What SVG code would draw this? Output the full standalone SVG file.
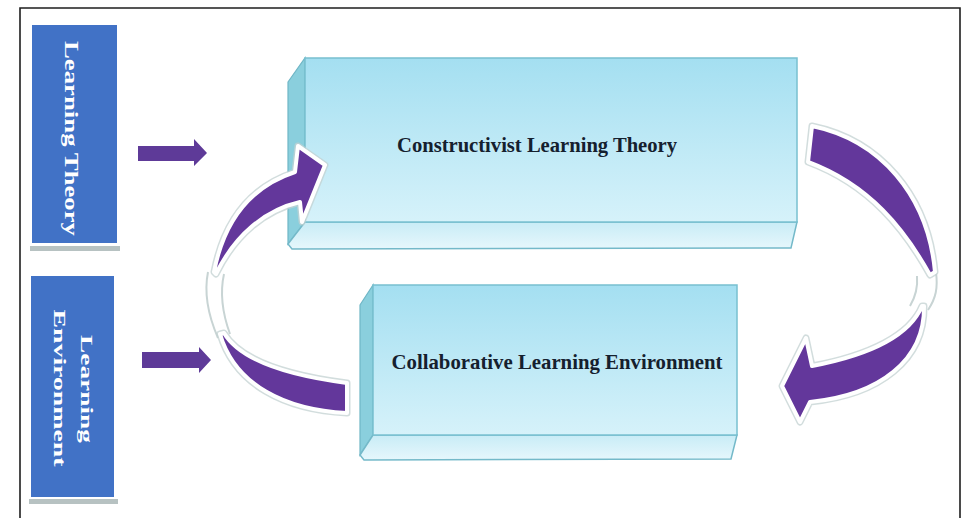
<svg xmlns="http://www.w3.org/2000/svg" width="978" height="518" viewBox="0 0 978 518">
  <defs>
    <linearGradient id="face" x1="0" y1="0" x2="0" y2="1">
      <stop offset="0" stop-color="#a4dff1"/>
      <stop offset="1" stop-color="#d6f2fa"/>
    </linearGradient>
    <linearGradient id="bottomFace" x1="0" y1="0" x2="0" y2="1">
      <stop offset="0" stop-color="#c8ecf6"/>
      <stop offset="1" stop-color="#e6f7fc"/>
    </linearGradient>
    <style>
      .frame { fill: none; stroke: #1e1e1e; stroke-width: 1.6; }
      .blue { fill: #4172c6; }
      .bshadow { fill: #b7c2c2; }
      .vtext { font-family: "Liberation Serif", "Times New Roman", serif; font-weight: bold; fill: #ffffff; }
      .front { fill: url(#face); stroke: #78c0d0; stroke-width: 1.5; }
      .side { fill: #8acfdd; stroke: #6fb6c6; stroke-width: 1.2; }
      .bottom { fill: url(#bottomFace); stroke: #74b9c9; stroke-width: 1.5; }
      .label { font-family: "Liberation Serif", "Times New Roman", serif; font-weight: bold; font-size: 22px; fill: #15202e; }
      .purple { fill: #63379b; stroke: #ffffff; stroke-width: 4; stroke-linejoin: round; }
      .halo { fill: none; stroke: #c3d1d1; stroke-width: 7; stroke-linejoin: round; opacity: 0.75; }
      .ring { fill: none; stroke: #c8d4d4; stroke-width: 2; }
      .short { fill: #5e3a98; }
    </style>
  </defs>

  <rect width="978" height="518" fill="#ffffff"/>
  <path class="frame" d="M20,518 V8 H960 V518"/>

  <g id="learning-theory">
    <rect class="bshadow" x="30" y="246" width="90" height="5"/>
    <rect class="blue" x="32" y="25" width="85" height="218"/>
    <text class="vtext" font-size="18" transform="translate(65,138.5) rotate(90)" text-anchor="middle" textLength="195" lengthAdjust="spacingAndGlyphs">Learning Theory</text>
  </g>

  <g id="learning-environment">
    <rect class="bshadow" x="29" y="499" width="89" height="5"/>
    <rect class="blue" x="31" y="276" width="83" height="221"/>
    <text class="vtext" font-size="16" transform="translate(81,389) rotate(90)" text-anchor="middle" textLength="108" lengthAdjust="spacingAndGlyphs">Learning</text>
    <text class="vtext" font-size="16" transform="translate(54,388) rotate(90)" text-anchor="middle" textLength="157" lengthAdjust="spacingAndGlyphs">Environment</text>
  </g>

  <g id="constructivist">
    <polygon class="side" points="288,82 305,58 305,222 288,244"/>
    <polygon class="bottom" points="288,244 305,222 797,222 791,248 292,249"/>
    <rect class="front" x="305" y="58" width="492" height="164"/>
    <text class="label" x="537" y="152" text-anchor="middle" textLength="280" lengthAdjust="spacingAndGlyphs">Constructivist Learning Theory</text>
  </g>

  <g id="collaborative">
    <polygon class="side" points="360,305 373,285 373,435 360,455"/>
    <polygon class="bottom" points="360,455 373,435 737,435 731,459 364,460"/>
    <rect class="front" x="373" y="285" width="364" height="150"/>
    <text class="label" x="557" y="369" text-anchor="middle" textLength="331" lengthAdjust="spacingAndGlyphs">Collaborative Learning Environment</text>
  </g>

  <g id="connectors">
    <path class="ring" d="M936,272 C938,288 936,298 928,310"/>
    <path class="ring" d="M917,276 C918,288 916,296 910,306"/>
    <path class="ring" d="M208,272 C204,292 208,315 218,338"/>
    <path class="ring" d="M224,274 C220,292 222,312 230,334"/>

    <path class="halo" d="M812,126 C880,140 928,195 935,272 L930,275 C905,230 870,185 808,162 Z"/>
    <path class="purple" d="M812,126 C880,140 928,195 935,272 L930,275 C905,230 870,185 808,162 Z"/>
    <path class="halo" d="M924,306 C925,360 880,395 810,402 L800,422 L782,386 L806,338 L812,366 C870,355 910,335 922,306 Z"/>
    <path class="purple" d="M924,306 C925,360 880,395 810,402 L800,422 L782,386 L806,338 L812,366 C870,355 910,335 922,306 Z"/>

    <path class="halo" d="M220,334 C235,385 285,410 347,413 L347,383 C285,375 240,360 224,333 Z"/>
    <path class="purple" d="M220,334 C235,385 285,410 347,413 L347,383 C285,375 240,360 224,333 Z"/>
    <path class="halo" d="M214,272 C225,215 255,185 295,172 L298,146 L325,165 L302,222 L300,202 C265,210 235,235 216,274 Z"/>
    <path class="purple" d="M214,272 C225,215 255,185 295,172 L298,146 L325,165 L302,222 L300,202 C265,210 235,235 216,274 Z"/>

    <path class="short" d="M138,146 H194 V139 L207,153 L194,166 V161 H138 Z"/>
    <path class="short" d="M142,352 H199 V347 L211,360 L199,373 V368 H142 Z"/>
  </g>
</svg>
